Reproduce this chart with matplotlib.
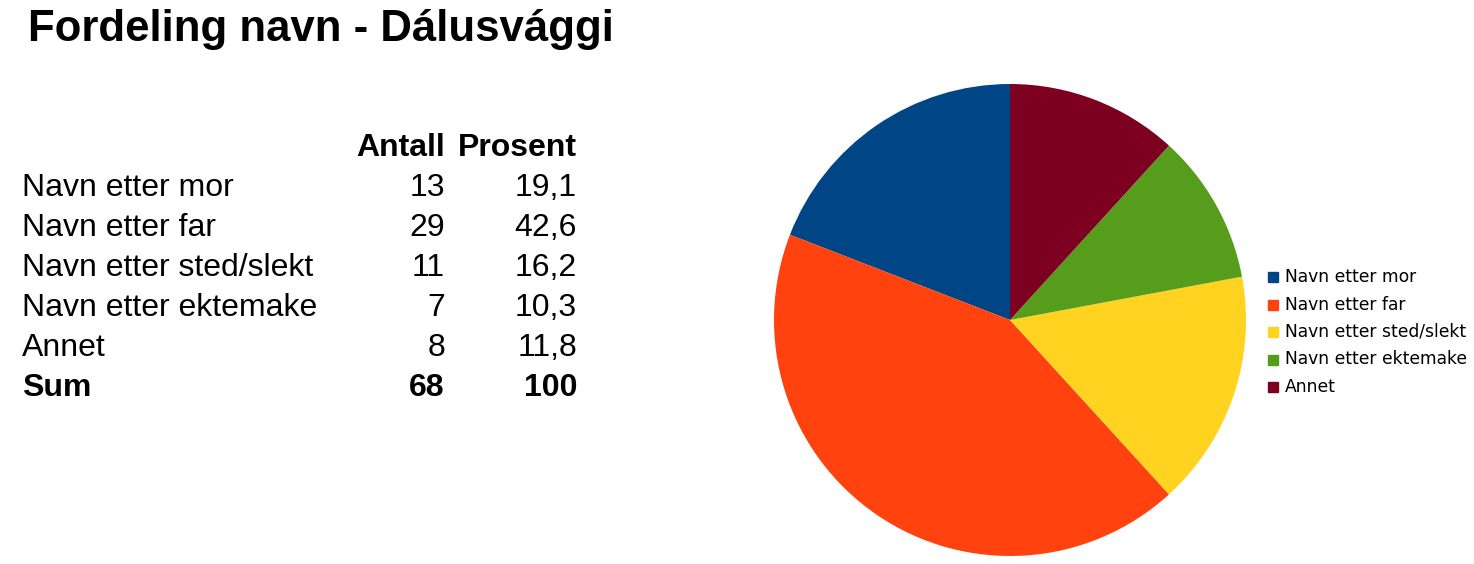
import matplotlib.pyplot as plt

plt.rcParams['font.family'] = ['Liberation Sans', 'DejaVu Sans']

categories = ['Navn etter mor', 'Navn etter far', 'Navn etter sted/slekt',
              'Navn etter ektemake', 'Annet']
antall = [13, 29, 11, 7, 8]
prosent = ['19,1', '42,6', '16,2', '10,3', '11,8']
colors = ['#004586', '#ff420e', '#ffd320', '#579d1c', '#7e0021']

W, H = 1474, 564
fig = plt.figure(figsize=(W / 100, H / 100), dpi=100)


def fx(x):
    return x / W


def fy(y):
    return 1 - y / H


fig.text(fx(28), fy(30), 'Fordeling navn - Dálusvággi', fontsize=31.5,
         fontweight='bold', va='center', ha='left')

# table
fs = 23
fig.text(fx(445), fy(148), 'Antall', fontsize=fs, fontweight='bold', ha='right', va='center')
fig.text(fx(577), fy(148), 'Prosent', fontsize=fs, fontweight='bold', ha='right', va='center')
for i, (c, a, p) in enumerate(zip(categories, antall, prosent)):
    y = fy(188 + 40 * i)
    fig.text(fx(22), y, c, fontsize=fs, ha='left', va='center')
    fig.text(fx(445), y, str(a), fontsize=fs, ha='right', va='center')
    fig.text(fx(577), y, p, fontsize=fs, ha='right', va='center')
y = fy(388)
fig.text(fx(22), y, 'Sum', fontsize=fs, fontweight='bold', ha='left', va='center')
fig.text(fx(445), y, str(sum(antall)), fontsize=fs, fontweight='bold', ha='right', va='center')
fig.text(fx(577), y, '100', fontsize=fs, fontweight='bold', ha='right', va='center')

# pie
ax = fig.add_axes([fx(1010 - 236), fy(320 + 236), fx(472), 472 / H])
ax.pie(antall, colors=colors, startangle=90, counterclock=True, radius=1)
ax.set_xlim(-1, 1)
ax.set_ylim(-1, 1)
ax.set_aspect('auto')

# legend
for i, (c, col) in enumerate(zip(categories, colors)):
    y = 277 + 27.5 * i
    fig.patches.append(plt.Rectangle((fx(1268), fy(y + 5)), fx(10), 10 / H,
                                     transform=fig.transFigure, color=col))
    fig.text(fx(1285), fy(y), c, fontsize=12.3, ha='left', va='center',
             family='DejaVu Sans')

fig.savefig('out.png', dpi=100)
